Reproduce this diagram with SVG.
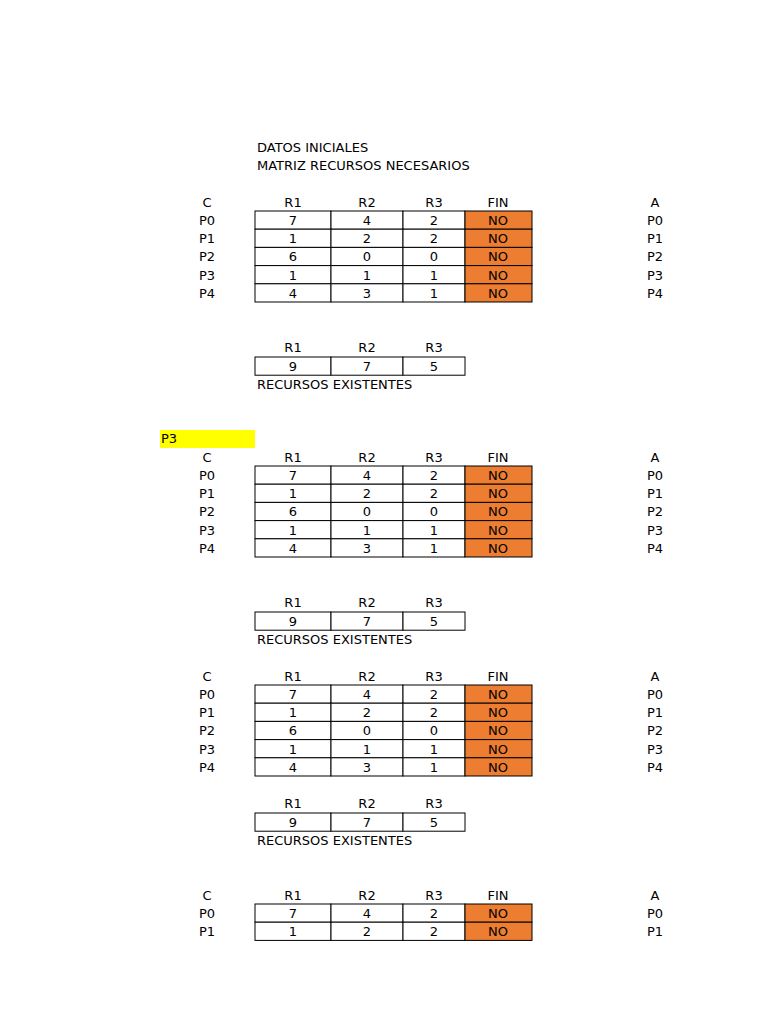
<svg xmlns="http://www.w3.org/2000/svg" xmlns:xlink="http://www.w3.org/1999/xlink" width="768" height="1024" viewBox="0 0 768 1024">
<style>
text{font-family:"DejaVu Sans",sans-serif;font-size:13px;fill:#000}
.c{text-anchor:middle}
.cell{fill:#fff;stroke:#000;stroke-width:1}
.fin{fill:#ED7D31;stroke:#000;stroke-width:1}
</style>
<defs>
<g id="row">
<rect class="cell" x="255" y="0" width="76" height="18.2"/>
<rect class="cell" x="331" y="0" width="72" height="18.2"/>
<rect class="cell" x="403" y="0" width="62" height="18.2"/>
<rect class="fin" x="465" y="0" width="67" height="18.2"/>
<text class="c" x="498" y="14">NO</text>
</g>
<g id="hdr">
<text class="c" x="293" y="0">R1</text><text class="c" x="367" y="0">R2</text><text class="c" x="434" y="0">R3</text>
</g>
<g id="full5">
<text class="c" x="207" y="-4">C</text><use xlink:href="#hdr" y="-4"/><text class="c" x="498" y="-4">FIN</text><text class="c" x="655" y="-4">A</text>
<use xlink:href="#row" y="0"/><use xlink:href="#row" y="18.2"/><use xlink:href="#row" y="36.4"/><use xlink:href="#row" y="54.6"/><use xlink:href="#row" y="72.8"/>
<text class="c" x="207" y="14">P0</text><text class="c" x="293" y="14">7</text><text class="c" x="367" y="14">4</text><text class="c" x="434" y="14">2</text><text class="c" x="655" y="14">P0</text>
<text class="c" x="207" y="32">P1</text><text class="c" x="293" y="32">1</text><text class="c" x="367" y="32">2</text><text class="c" x="434" y="32">2</text><text class="c" x="655" y="32">P1</text>
<text class="c" x="207" y="50">P2</text><text class="c" x="293" y="50">6</text><text class="c" x="367" y="50">0</text><text class="c" x="434" y="50">0</text><text class="c" x="655" y="50">P2</text>
<text class="c" x="207" y="69">P3</text><text class="c" x="293" y="69">1</text><text class="c" x="367" y="69">1</text><text class="c" x="434" y="69">1</text><text class="c" x="655" y="69">P3</text>
<text class="c" x="207" y="87">P4</text><text class="c" x="293" y="87">4</text><text class="c" x="367" y="87">3</text><text class="c" x="434" y="87">1</text><text class="c" x="655" y="87">P4</text>
</g>
<g id="small">
<use xlink:href="#hdr" y="-5"/>
<rect class="cell" x="255" y="0" width="76" height="18.2"/>
<rect class="cell" x="331" y="0" width="72" height="18.2"/>
<rect class="cell" x="403" y="0" width="62" height="18.2"/>
<text class="c" x="293" y="14">9</text><text class="c" x="367" y="14">7</text><text class="c" x="434" y="14">5</text>
<text x="257" y="32">RECURSOS EXISTENTES</text>
</g>
</defs>
<g id="titles">
<text x="257" y="152">DATOS INICIALES</text>
<text x="257" y="170">MATRIZ RECURSOS NECESARIOS</text>
</g>
<g id="table1"><use xlink:href="#full5" y="211"/></g>
<g id="existentes1"><use xlink:href="#small" y="357"/></g>
<g id="p3label"><rect x="160" y="430" width="95" height="18" fill="#FFFF00"/><text x="161" y="443">P3</text></g>
<g id="table2"><use xlink:href="#full5" y="466"/></g>
<g id="existentes2"><use xlink:href="#small" y="612"/></g>
<g id="table3"><use xlink:href="#full5" y="685"/></g>
<g id="existentes3"><use xlink:href="#small" y="813"/></g>
<g id="table4">
<text class="c" x="207" y="900">C</text><use xlink:href="#hdr" y="900"/><text class="c" x="498" y="900">FIN</text><text class="c" x="655" y="900">A</text>
<use xlink:href="#row" y="904"/><use xlink:href="#row" y="922.2"/>
<text class="c" x="207" y="918">P0</text><text class="c" x="293" y="918">7</text><text class="c" x="367" y="918">4</text><text class="c" x="434" y="918">2</text><text class="c" x="655" y="918">P0</text>
<text class="c" x="207" y="936">P1</text><text class="c" x="293" y="936">1</text><text class="c" x="367" y="936">2</text><text class="c" x="434" y="936">2</text><text class="c" x="655" y="936">P1</text>
</g>
<g id="connectors"/>
</svg>
